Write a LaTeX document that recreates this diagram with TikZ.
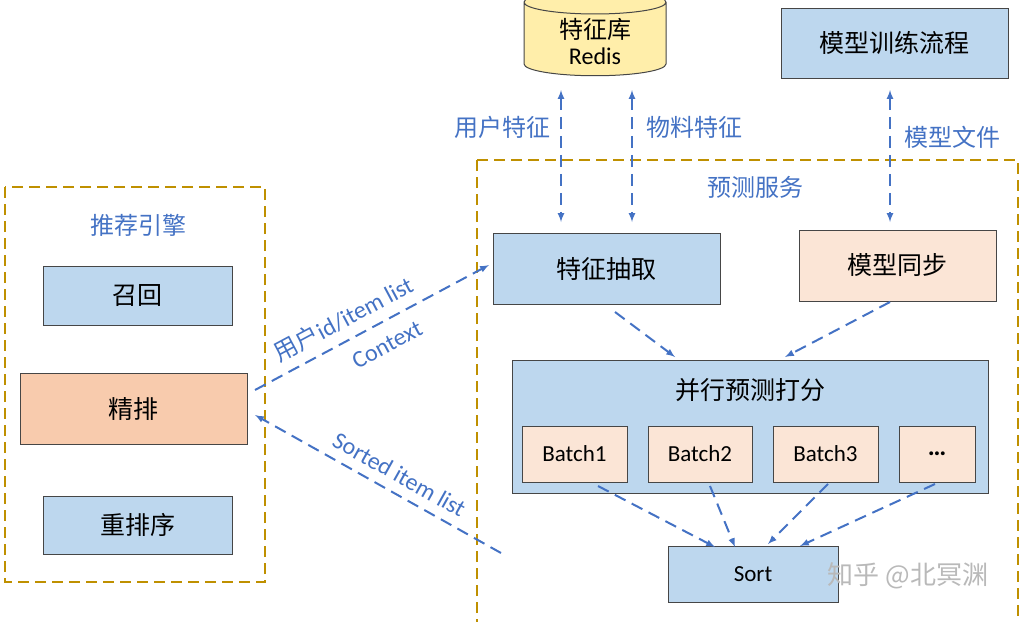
\documentclass[tikz,border=0pt]{standalone}
\usepackage{fontspec}
\setmainfont{Carlito}
\newfontfamily\cjk{Noto Sans CJK SC}
\usetikzlibrary{arrows,shapes.geometric}
\definecolor{bluefill}{RGB}{189,215,238}
\definecolor{peach}{RGB}{248,203,173}
\definecolor{lightpeach}{RGB}{251,229,214}
\definecolor{yellowfill}{RGB}{255,238,170}
\definecolor{linkblue}{RGB}{68,114,196}
\definecolor{frame}{RGB}{191,144,0}
\definecolor{edge}{RGB}{70,70,70}
\tikzset{
  box/.style={draw=edge,line width=1pt,fill=bluefill,font=\fontsize{25}{29}\selectfont},
  batch/.style={box,fill=lightpeach,minimum height=56,font=\fontsize{23}{27}\selectfont},
  flow/.style={->,>=latex,line width=2pt,dash pattern=on 12pt off 7pt,draw=linkblue},
  tag/.style={text=linkblue,font=\fontsize{24}{28}\selectfont},
  group/.style={draw=frame,line width=1.6pt,dash pattern=on 11pt off 6pt}
}
\begin{document}
\begin{tikzpicture}[x=1pt, y=-1pt]
      \useasboundingbox (0,0) rectangle (1032,621);
      % left group
      \draw[group] (5,187) rectangle (265,582);
      \node[tag] (engine) at (138,225) {\cjk 推荐引擎};
      \node[box,minimum width=189,minimum height=59] (recall) at (137.5,295.5) {\cjk 召回};
      \node[box,fill=peach,minimum width=227,minimum height=71] (rank) at (133.5,408.5) {\cjk 精排};
      \node[box,minimum width=189,minimum height=58] (rerank) at (137.5,525) {\cjk 重排序};
      % right group
      \draw[group] (477,160) -- (1018,160) -- (1018,630) (477,630) -- (477,160);
      \node[tag] (service) at (755,187) {\cjk 预测服务};
      \node[cylinder,shape border rotate=90,aspect=0.3,draw=edge,line width=1pt,fill=yellowfill,minimum width=142,minimum height=80,align=center,font=\fontsize{24}{28}\selectfont] (redis) at (595,41) {{\cjk 特征库}\\[-2pt]Redis};
      \node[box,minimum width=227,minimum height=70] (train) at (894.5,43) {\cjk 模型训练流程};
      \node[box,minimum width=227,minimum height=71] (extract) at (606.5,268.5) {\cjk 特征抽取};
      \node[box,fill=lightpeach,minimum width=197,minimum height=71] (sync) at (897.5,265.5) {\cjk 模型同步};
      \node[box,minimum width=476,minimum height=133] (score) at (750,426.5) {};
      \node[box,draw=none,fill=none] (scoretitle) at (750,390) {\cjk 并行预测打分};
      \node[batch,minimum width=105] (b1) at (574.5,454) {Batch1};
      \node[batch,minimum width=104] (b2) at (700,454) {Batch2};
      \node[batch,minimum width=105] (b3) at (825.5,454) {Batch3};
      \node[batch,minimum width=76,font=\fontsize{26}{26}\selectfont\bfseries] (b4) at (937,454) {…};
      \node[box,minimum width=170,minimum height=56,font=\fontsize{23}{27}\selectfont] (sort) at (753,574) {Sort};
      % connectors
      \coordinate (uf1) at (561,90); \coordinate (uf2) at (561,222);
      \coordinate (if1) at (632,90); \coordinate (if2) at (632,222);
      \coordinate (mf1) at (890,90); \coordinate (mf2) at (890,222);
      \draw[flow,<->] (uf1) -- node[tag,left=6pt,pos=0.28] {\cjk 用户特征} (uf2);
      \draw[flow,<->] (if1) -- node[tag,right=10pt,pos=0.28] {\cjk 物料特征} (if2);
      \draw[flow,<->] (mf1) -- node[tag,right=10pt,pos=0.36] {\cjk 模型文件} (mf2);
      \coordinate (ex) at (615,312); \coordinate (sy) at (890,302);
      \coordinate (sc1) at (675,357); \coordinate (sc2) at (785,357);
      \draw[flow] (ex) -- (sc1);
      \draw[flow] (sy) -- (sc2);
      \coordinate (s1) at (715,547); \coordinate (s2) at (735,547);
      \coordinate (s3) at (768,544); \coordinate (s4) at (800,546);
      \draw[flow] (598,486) -- (s1);
      \draw[flow] (710,486) -- (s2);
      \draw[flow] (828,484) -- (s3);
      \draw[flow] (935,484) -- (s4);
      \coordinate (r1) at (255,390); \coordinate (e1) at (489,265);
      \draw[flow] (r1) -- node[tag,sloped,above=6pt,pos=0.42] {{\cjk 用户}id/item list}
        node[tag,sloped,below=10pt,pos=0.52] {Context} (e1);
      \coordinate (so) at (501,553); \coordinate (r2) at (255,415);
      \draw[flow] (so) -- node[tag,sloped,above=6pt,pos=0.45] {Sorted item list} (r2);
      \node[text=gray!55,font=\cjk\fontsize{26}{30}\selectfont] (mark) at (908,576) {知乎 @北冥渊};
   \end{tikzpicture}
\end{document}
